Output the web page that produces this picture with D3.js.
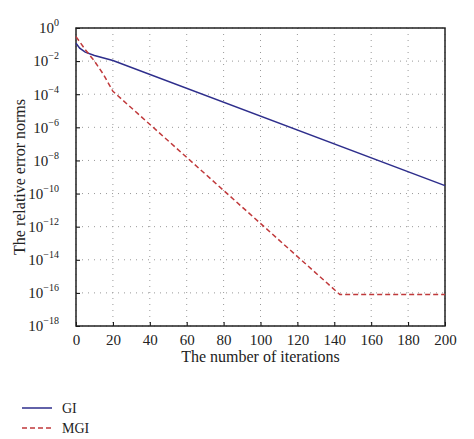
<!DOCTYPE html><html><head><script src="https://d3js.org/d3.v7.min.js"></script>
<style>body{margin:0;background:#fff}text{font-family:"Liberation Serif",serif;fill:#222}</style></head><body>
<svg id="c" width="474" height="439"></svg>
<script>
const giX=[0,2,5,10,20,200];
const giY=[1.2e-1,6e-2,3.5e-2,2.2e-2,1.1e-2,3e-10];
const mgiX=[0,5,10,15,20,143,200];
const mgiY=[3e-1,5e-2,1e-2,1.5e-3,1.5e-4,8e-17,8e-17];
const xTicks=[0,20,40,60,80,100,120,140,160,180,200];
const yExp=[0,-2,-4,-6,-8,-10,-12,-14,-16,-18];
const svg=d3.select("#c");
const L=76,R=445,T=28,B=326;
const x=d3.scaleLinear().domain([0,200]).range([L,R]);
const y=d3.scaleLog().domain([1e-18,1]).range([B,T]);
const g=svg.append("g");
xTicks.forEach(t=>{g.append("line").attr("x1",x(t)).attr("x2",x(t)).attr("y1",T).attr("y2",B).attr("stroke","#999").attr("stroke-dasharray","1,5");});
yExp.forEach(e=>{g.append("line").attr("x1",L).attr("x2",R).attr("y1",y(10**e)).attr("y2",y(10**e)).attr("stroke","#999").attr("stroke-dasharray","1,5");});
svg.append("g").attr("transform",`translate(0,${B})`).call(d3.axisBottom(x).tickValues(xTicks).tickSize(-4).tickPadding(8)).call(a=>{a.selectAll("text").attr("font-size",15).attr("font-family","Liberation Serif");a.select(".domain").remove();});
svg.append("g").attr("transform",`translate(${L},0)`).call(d3.axisLeft(y).tickValues(yExp.map(e=>10**e)).tickSize(-4).tickPadding(6).tickFormat(()=>""))
 .call(a=>{a.select(".domain").remove();a.selectAll(".tick").each(function(d,i){const t=d3.select(this).select("text");t.text("10").attr("font-size",15).attr("font-family","Liberation Serif").attr("dx",-11);t.append("tspan").attr("dy",-7).attr("font-size",10).text(yExp[i]===0?"0":"\u2212"+(-yExp[i]));});});
svg.append("rect").attr("x",L).attr("y",T).attr("width",R-L).attr("height",B-T).attr("fill","none").attr("stroke","#222").attr("stroke-width",1.5);
const line=d3.line().x(d=>x(d[0])).y(d=>y(d[1]));
svg.append("path").datum(giX.map((v,i)=>[v,giY[i]])).attr("d",line).attr("fill","none").attr("stroke","#2e2e8c").attr("stroke-width",1.5);
svg.append("path").datum(mgiX.map((v,i)=>[v,mgiY[i]])).attr("d",line).attr("fill","none").attr("stroke","#c0393b").attr("stroke-width",1.5).attr("stroke-dasharray","5,3");
svg.append("text").attr("x",(L+R)/2).attr("y",362).attr("text-anchor","middle").attr("font-size",16).text("The number of iterations");
svg.append("text").attr("transform",`translate(25,${(T+B)/2}) rotate(-90)`).attr("text-anchor","middle").attr("font-size",16).text("The relative error norms");
[["GI","#2e2e8c",null,408],["MGI","#c0393b","5,3",428]].forEach(([n,c,d,yy])=>{
 svg.append("line").attr("x1",22).attr("x2",52).attr("y1",yy).attr("y2",yy).attr("stroke",c).attr("stroke-width",1.5).attr("stroke-dasharray",d);
 svg.append("text").attr("x",62).attr("y",yy+5).attr("font-size",14).text(n);});
</script></body></html>
